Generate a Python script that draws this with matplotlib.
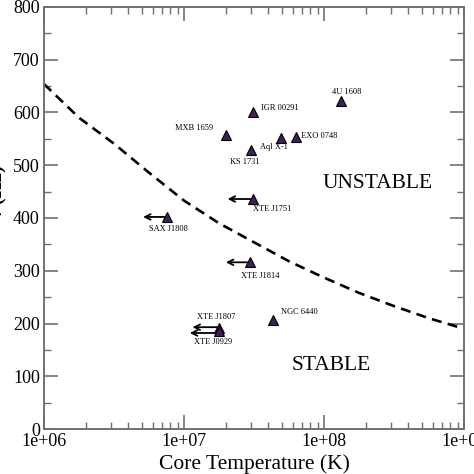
import matplotlib
matplotlib.use("Agg")
import matplotlib.pyplot as plt
from matplotlib.ticker import LogLocator, MultipleLocator, FixedLocator, NullFormatter

plt.rcParams['font.family'] = ['Liberation Serif', 'DejaVu Serif']

# sources: core temperature (K), spin frequency (Hz)
names = ["4U 1608", "IGR 00291", "MXB 1659", "KS 1731", "Aql X-1", "EXO 0748",
         "XTE J1751", "SAX J1808", "XTE J1814", "XTE J1807", "XTE J0929", "NGC 6440"]
temp = [1.32e8, 3.1e7, 2.0e7, 3.0e7, 4.9e7, 6.3e7,
        3.1e7, 7.5e6, 2.97e7, 1.78e7, 1.78e7, 4.35e7]
freq = [622, 600, 557, 528, 552, 554,
        436, 402, 316, 191, 185, 206]

# upper limits: arrow head temperature
lim_names = ["SAX J1808", "XTE J1751", "XTE J1814", "XTE J1807", "XTE J0929"]
lim_temp = [5.1e6, 2.05e7, 1.99e7, 1.15e7, 1.10e7]
lim_freq = [402, 436, 316, 193, 182]

# instability boundary
curve_T = [1e6, 1.78e6, 3.16e6, 5.62e6, 1e7, 1.78e7, 3.16e7, 5.62e7, 1e8, 1.78e8, 3.16e8, 5.62e8, 1e9]
curve_nu = [654, 590, 541, 486, 433, 390, 354, 318, 287, 258, 233, 210, 190]

# label offsets in pixels (dx, dy, ha)
label_off = {
    "4U 1608": (6, 9, "center"), "IGR 00291": (8, 4, "left"), "MXB 1659": (-13, 7, "right"),
    "KS 1731": (-6, -12, "center"), "Aql X-1": (-21, -9, "left"), "EXO 0748": (5, 1, "left"),
    "XTE J1751": (19, -10, "center"), "SAX J1808": (2, -12, "center"),
    "XTE J1814": (10, -14, "center"), "XTE J1807": (-3, 11, "center"),
    "XTE J0929": (-6, -11, "center"), "NGC 6440": (8, 8, "left"),
}

fig = plt.figure(figsize=(4.74, 4.74), dpi=100)
ax = fig.add_axes([44/474, 45/474, 420/474, 422/474])

ax.plot(curve_T, curve_nu, color="black", lw=1.9, dashes=(3.8, 2.4))

for n, t1, f in zip(lim_names, lim_temp, lim_freq):
    t0 = temp[names.index(n)]
    ax.annotate("", xy=(t1, f), xytext=(t0, f),
                arrowprops=dict(arrowstyle="->", color="black", lw=1.3, shrinkA=0, shrinkB=0))

ax.plot(temp, freq, linestyle="none", marker="^", markersize=7.5,
        markerfacecolor="#3e1f5c", markeredgecolor="black", markeredgewidth=0.8, zorder=5)

for n, t, f in zip(names, temp, freq):
    dx, dy, ha = label_off[n]
    ax.annotate(n, xy=(t, f), xytext=(dx, dy), textcoords="offset pixels",
                ha=ha, va="center", fontsize=6)

ax.text(378/474, 1 - 183/474, "UNSTABLE", transform=fig.transFigure, fontsize=15.5,
        ha="center", va="center")
ax.text(331/474, 1 - 365/474, "STABLE", transform=fig.transFigure, fontsize=15.5,
        ha="center", va="center")

ax.set_xscale("log")
ax.set_xlim(1e6, 1e9)
ax.set_ylim(0, 800)
ax.xaxis.set_major_locator(FixedLocator([1e6, 1e7, 1e8, 1e9]))
ax.set_xticklabels(["1e+06", "1e+07", "1e+08", "1e+09"])
ax.xaxis.set_minor_locator(LogLocator(base=10, subs=range(2, 10)))
ax.xaxis.set_minor_formatter(NullFormatter())
ax.yaxis.set_major_locator(MultipleLocator(100))
ax.yaxis.set_minor_locator(MultipleLocator(50))

ax.tick_params(which="both", direction="in", top=True, right=True, color="#707070")
ax.tick_params(which="major", length=10, width=1.2, labelsize=13, pad=3)
ax.tick_params(which="minor", length=5, width=1.0)
for s in ax.spines.values():
    s.set_color("#707070")
    s.set_linewidth(1.4)

ax.set_xlabel("Core Temperature (K)", fontsize=15.5, labelpad=3)
fig.text(-2/474, 1 - 192/474, "ν (Hz)", rotation=90, fontsize=15, ha="center", va="center",
         fontweight="bold")

fig.savefig("out.png", dpi=100)
